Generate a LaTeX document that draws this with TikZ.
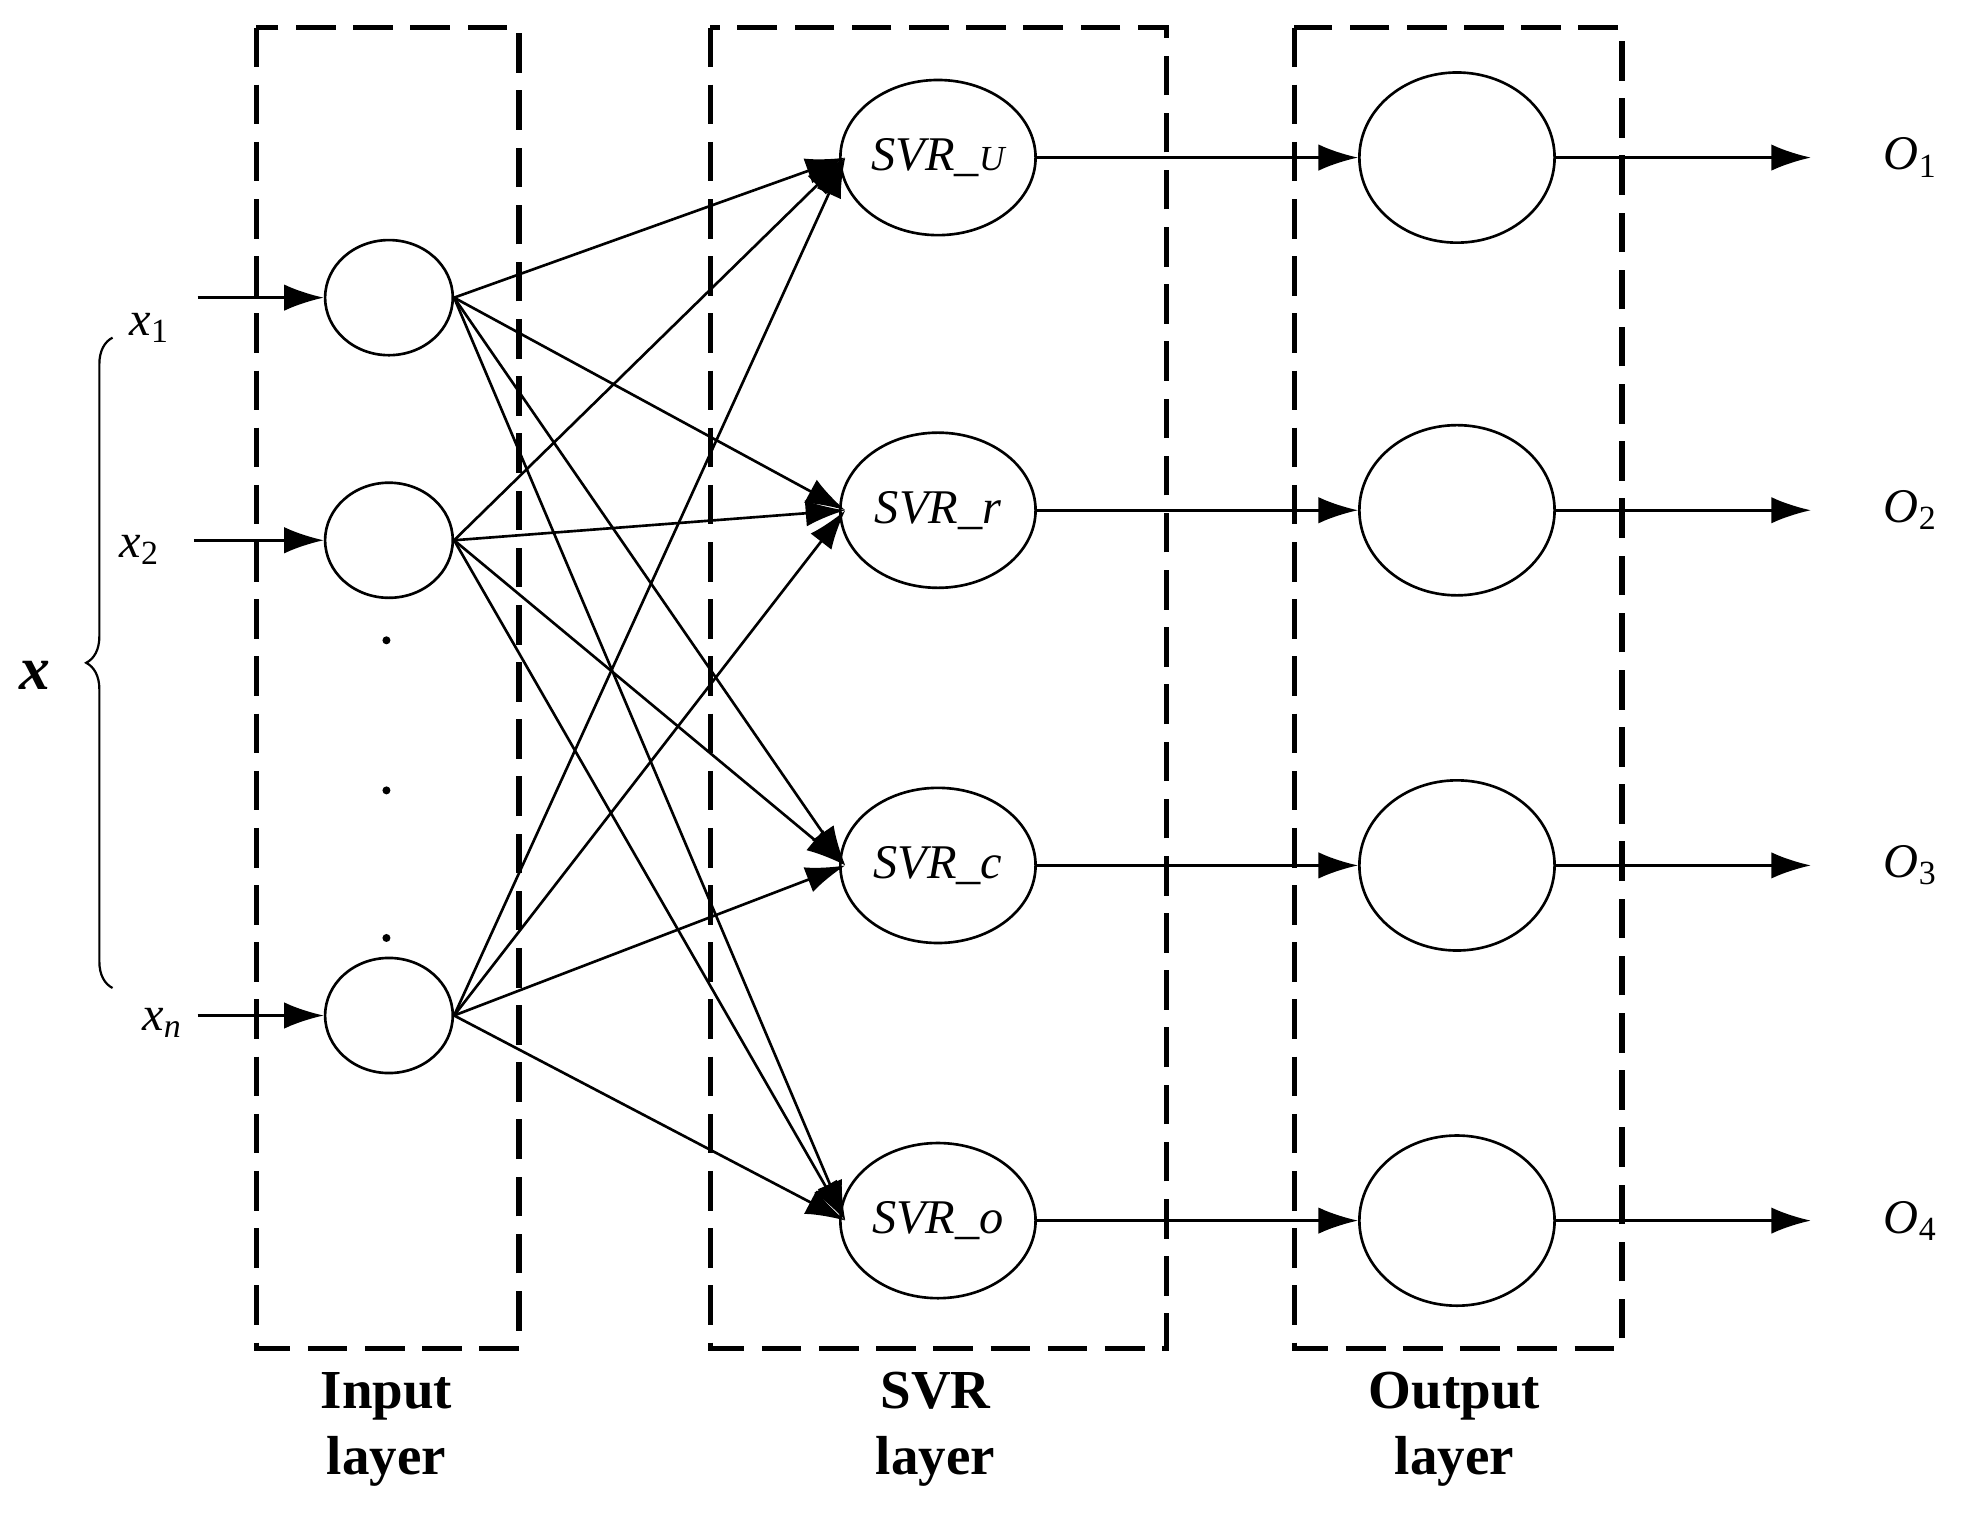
\documentclass[tikz,border=0pt]{standalone}
\usepackage{fontspec}
\setmainfont{Liberation Serif}
\usetikzlibrary{arrows.meta,decorations.pathreplacing,shapes.geometric}
\begin{document}
\begin{tikzpicture}[x=0.01cm,y=-0.01cm,
  box/.style={draw,line width=1.2pt,dash pattern=on 9pt off 4pt},
  arr/.style={-{Latex[length=9pt,width=6pt]},line width=0.6pt},
  lbl/.style={font=\fontsize{11}{13}\selectfont\itshape},
  lay/.style={font=\fontsize{12.5}{15}\selectfont\bfseries,align=center}]
\useasboundingbox (0,0) rectangle (1568,1219);
\draw[box] (205,22) rectangle (415,1078);
\draw[box] (568,22) rectangle (933,1078);
\draw[box] (1035,22) rectangle (1297,1078);
\foreach \n/\y in {i1/238,i2/432,in/812}
  \node[draw,ellipse,minimum width=1.02cm,minimum height=0.92cm,line width=0.6pt] (\n) at (311,\y) {};
\foreach \n/\y/\t in {sU/126/{SVR\_{\footnotesize U}},sr/408/{SVR\_r},sc/692/{SVR\_c},so/976/{SVR\_o}}
  \node[draw,ellipse,minimum width=1.56cm,minimum height=1.24cm,line width=0.6pt,lbl,inner sep=0pt] (\n) at (750,\y) {\t};
\foreach \n/\y in {o1/126,o2/408,o3/692,o4/976}
  \node[draw,ellipse,minimum width=1.56cm,minimum height=1.36cm,line width=0.6pt] (\n) at (1165,\y) {};
\foreach \y in {512,632,750} \fill (309,\y) circle (3.2);
\coordinate (a1) at (158,238); \coordinate (a2) at (155,432); \coordinate (an) at (158,812);
\draw[arr] (a1) -- (i1); \draw[arr] (a2) -- (i2); \draw[arr] (an) -- (in);
\node[lbl] (x1) at (120,262) {x\textsubscript{\upshape 1}};
\node[lbl] (x2) at (112,440) {x\textsubscript{\upshape 2}};
\node[lbl] (xn) at (130,818) {x\textsubscript{n}};
\node[font=\fontsize{14}{16}\selectfont\bfseries\itshape] (xx) at (28,540) {x};
\draw[decorate,decoration={brace,amplitude=6pt},line width=0.5pt] (90,790) -- (90,270);
\foreach \a in {i1,i2,in} \foreach \b in {sU,sr,sc,so} \draw[arr] (\a.east) -- ([xshift=0.05cm]\b.west);
\foreach \s/\o/\k/\y in {sU/o1/1/126,sr/o2/2/408,sc/o3/3/692,so/o4/4/976}{
  \draw[arr] (\s) -- (\o);
  \coordinate (e\k) at (1448,\y);
  \draw[arr] (\o) -- (e\k);
  \node[lbl] (O\k) at (1528,\y) {O\textsubscript{\upshape\k}};
}
\node[lay] (L1) at (309,1143) {Input\\layer};
\node[lay] (L2) at (748,1143) {SVR\\layer};
\node[lay] (L3) at (1163,1143) {Output\\layer};
\end{tikzpicture}
\end{document}
